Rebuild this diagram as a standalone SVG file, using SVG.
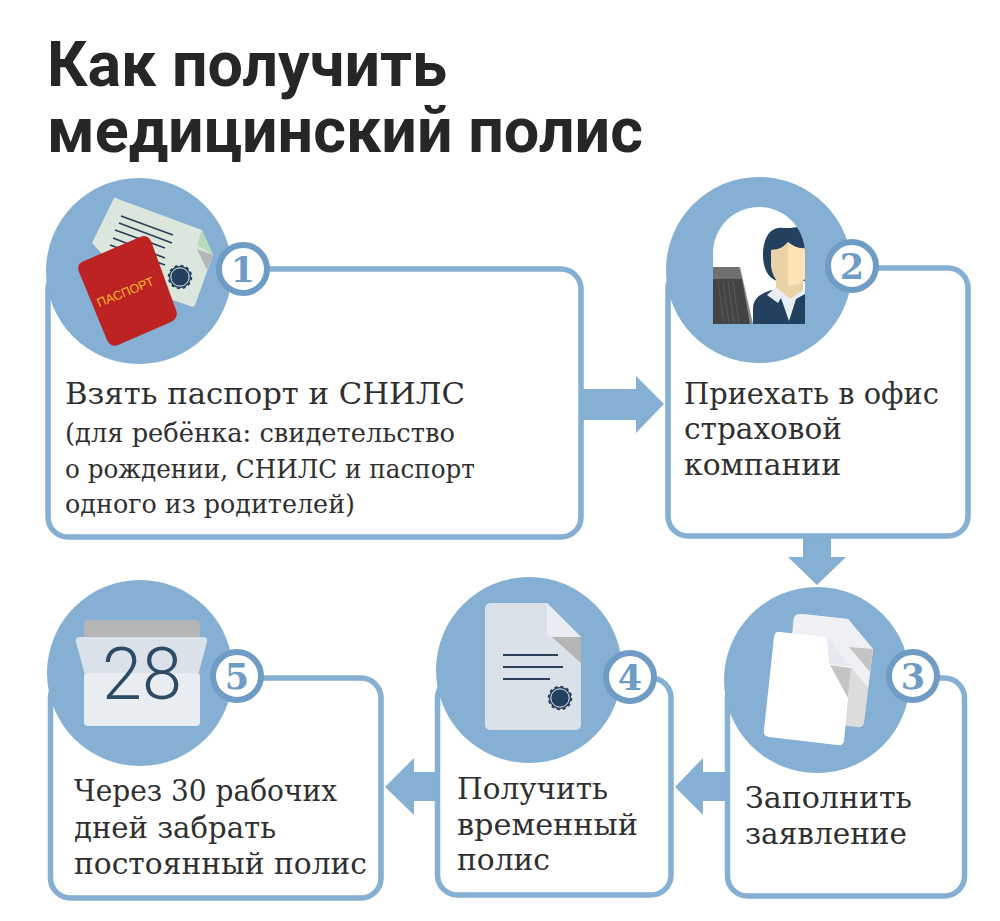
<svg xmlns="http://www.w3.org/2000/svg" width="1000" height="921" viewBox="0 0 1000 921">
<defs>
<style>
.box{fill:#fff;stroke:#85afd3;stroke-width:5.500}
.disc{fill:#85afd3}
.badge{fill:#fff;stroke:#6e9cc4;stroke-width:6}
.num{font-family:"DejaVu Serif",serif;font-weight:700;font-size:35px;fill:#6e9cc4;text-anchor:middle}
.title{font-family:Roboto,"Liberation Sans",sans-serif;font-weight:700;font-size:63px;fill:#262626}
.t{font-family:"DejaVu Serif","Liberation Serif",serif;font-size:29px;fill:#2f2f2f}
.s{font-family:"DejaVu Serif","Liberation Serif",serif;font-size:25.500px;fill:#2f2f2f}
.arrow{fill:#85afd3}
.ln{stroke:#2d4059;stroke-width:2;fill:none}
</style>
<clipPath id="arch"><path d="M713,324V253A46,46 0 0 1 805,253V324Z"/></clipPath>
<g id="seal"><circle r="11" fill="#24405f" stroke="#24405f" stroke-width="2.500" stroke-dasharray="3 2.760"/><circle r="9.200" fill="#24405f" stroke="#e8eef0" stroke-width="1"/></g>
</defs>
<rect width="1000" height="921" fill="#fff"/>
<text class="title" x="47" y="86" textLength="400" lengthAdjust="spacingAndGlyphs">Как получить</text>
<text class="title" x="47" y="152" textLength="596" lengthAdjust="spacingAndGlyphs">медицинский полис</text>
<g id="connectors">
<path class="arrow" d="M578,389H636V376L664,404L636,433V420H578Z"/>
<path class="arrow" d="M803,534V557H788L817,585L846,557H831V534Z"/>
<path class="arrow" d="M730,772H703V758L675,787L703,815V801H730Z"/>
<path class="arrow" d="M440,772H414V758L385,787L414,815V801H440Z"/>
</g>
<g id="node1">
<rect class="box" x="48" y="269" width="533" height="268" rx="20"/>
<circle class="disc" cx="139" cy="271" r="93"/>
<path d="M114,198Q116,197 118,199L202,230L213,255L195,305Q193,308 190,306L130,285L92,243Z" fill="#dbe7dc"/>
<path d="M202,230L213,255L197,245Z" fill="#b9d9b8"/>
<path d="M197,249L213,255L207,270Z" fill="#b5b5b5"/>
<path class="ln" style="stroke-width:1.600" d="M121,216L173,235M119,223L172,243M115,230L165,248M113,238L165,258M110,245L165,265"/>
<use href="#seal" x="180" y="277"/>
<path d="M84,261L140,237Q147,234 151,241L176,310Q179,318 171,322L118,345Q111,348 107,340L79,272Q76,264 84,261Z" fill="#bd2323"/>
<text transform="translate(127,296) rotate(-22)" font-family="Liberation Sans,sans-serif" font-size="12.500" fill="#f3b72e" text-anchor="middle">ПАСПОРТ</text>
<circle class="badge" cx="243" cy="269" r="24"/>
<text class="num" x="243" y="282">1</text>
<text class="t" x="65" y="404" textLength="400" lengthAdjust="spacingAndGlyphs">Взять паспорт и СНИЛС</text>
<text class="s" x="65" y="442" textLength="390" lengthAdjust="spacingAndGlyphs">(для ребёнка: свидетельство</text>
<text class="s" x="65" y="478" textLength="410" lengthAdjust="spacingAndGlyphs">о рождении, СНИЛС и паспорт</text>
<text class="s" x="65" y="513" textLength="290" lengthAdjust="spacingAndGlyphs">одного из родителей)</text>
</g>
<g id="node2">
<rect class="box" x="668" y="268" width="300" height="268" rx="20"/>
<circle class="disc" cx="759" cy="270" r="93"/>
<path d="M713,324V253A46,46 0 0 1 805,253V324Z" fill="#fff"/>
<g clip-path="url(#arch)">
<path d="M713,267H740L753,324H713Z" fill="#8a8a8a"/>
<path d="M713,267H739L742,279H713Z" fill="#6f6f6f"/>
<path d="M713,279H742L750,324H713Z" fill="#444"/>
<path class="ln" style="stroke:#5a5a5a;stroke-width:1" d="M718,281L724,324M723,281L729,324M728,281L734,324M733,281L739,324"/>
<path d="M783,228C768,226 763,242 763,255C763,268 768,278 777,281H805V226L790,228Z" fill="#24405f"/>
<path d="M771,250C779,250 784,247 788,242C793,246 800,249 805,248V279L800,284C795,288 787,288 782,285C775,281 771,272 771,262Z" fill="#fde3b5"/>
<path d="M771,250C779,250 784,247 788,242V287C785,287 783,286 782,285C775,281 771,272 771,262Z" fill="#e8d2a6"/>
<path d="M776,279C782,287 795,288 803,281V298H776Z" fill="#e8d2a6"/>
<path d="M753,324V309C753,297 762,293 772,290L790,300L805,292V324Z" fill="#24405f"/>
<path d="M776,287L767,295L778,303L781,298L789,321L796,299L805,294V289L790,299Z" fill="#e8eef4"/>
</g>
<circle class="badge" cx="852" cy="266" r="24"/>
<text class="num" x="852" y="279">2</text>
<text class="t" x="684" y="404" textLength="255" lengthAdjust="spacingAndGlyphs">Приехать в офис</text>
<text class="t" x="684" y="439" textLength="158" lengthAdjust="spacingAndGlyphs">страховой</text>
<text class="t" x="684" y="475" textLength="157" lengthAdjust="spacingAndGlyphs">компании</text>
</g>
<g id="node3">
<rect class="box" x="727.500" y="678" width="237" height="218" rx="20"/>
<circle class="disc" cx="817" cy="680" r="93"/>
<path d="M802,614L848,619L873,649L864,723Q863,728 857,727L790,720L793,620Q794,613 802,614Z" fill="#dcdcdc"/>
<path d="M802,614L848,619L873,649L868,688L851,667L827,637L792,635L794,620Q794,613 802,614Z" fill="#eef0f3"/>
<path d="M849,647L873,649L870,672Z" fill="#c4c4c4"/>
<path d="M780,632L827,637L851,667L844,741Q843,746 837,745L769,737Q763,736 764,730L774,637Q775,631 780,632Z" fill="#fff"/>
<path d="M827,637L851,667L829,664Z" fill="#e4e9ef"/>
<path d="M830,665L851,668L848,698Z" fill="#c4c4c4"/>
<circle class="badge" cx="913" cy="676" r="24"/>
<text class="num" x="913" y="689">3</text>
<text class="t" x="745" y="808" textLength="167" lengthAdjust="spacingAndGlyphs">Заполнить</text>
<text class="t" x="745" y="844" textLength="162" lengthAdjust="spacingAndGlyphs">заявление</text>
</g>
<g id="node4">
<rect class="box" x="437.500" y="678" width="233.500" height="217" rx="20"/>
<circle class="disc" cx="529" cy="670" r="93"/>
<path d="M491,603H547L581,637V724Q581,730 575,730H491Q485,730 485,724V609Q485,603 491,603Z" fill="#dbe1e8"/>
<path d="M547,603L581,637H552Q547,637 547,632Z" fill="#e9edf1"/>
<path d="M552,637H581V663Z" fill="#b5b5b5"/>
<path class="ln" d="M503,655H558M503,667H563M503,679H550"/>
<use href="#seal" x="560" y="698"/>
<circle class="badge" cx="630" cy="677" r="24"/>
<text class="num" x="630" y="690">4</text>
<text class="t" x="457" y="799" textLength="151" lengthAdjust="spacingAndGlyphs">Получить</text>
<text class="t" x="457" y="835" textLength="181" lengthAdjust="spacingAndGlyphs">временный</text>
<text class="t" x="457" y="870" textLength="93" lengthAdjust="spacingAndGlyphs">полис</text>
</g>
<g id="node5">
<rect class="box" x="50.500" y="678" width="330.500" height="220" rx="20"/>
<circle class="disc" cx="140" cy="673" r="93"/>
<path d="M89,620H195Q200,620 200,625V680H84V625Q84,620 89,620Z" fill="#b5b5b5"/>
<path d="M80,637H203Q208,637 207,642L198,675H85L76,642Q75,637 80,637Z" fill="#dbe1e8"/>
<path d="M88,673H196Q200,673 200,677V722Q200,726 196,726H88Q84,726 84,722V677Q84,673 88,673Z" fill="#e9edf1"/>
<text x="142" y="699" font-family="Roboto,sans-serif" font-weight="300" font-size="72" fill="#2d4a66" text-anchor="middle">28</text>
<circle class="badge" cx="237" cy="676" r="24"/>
<text class="num" x="237" y="689">5</text>
<text class="t" x="74" y="801" textLength="263" lengthAdjust="spacingAndGlyphs">Через 30 рабочих</text>
<text class="t" x="74" y="838" textLength="202" lengthAdjust="spacingAndGlyphs">дней забрать</text>
<text class="t" x="74" y="874" textLength="293" lengthAdjust="spacingAndGlyphs">постоянный полис</text>
</g>
</svg>
